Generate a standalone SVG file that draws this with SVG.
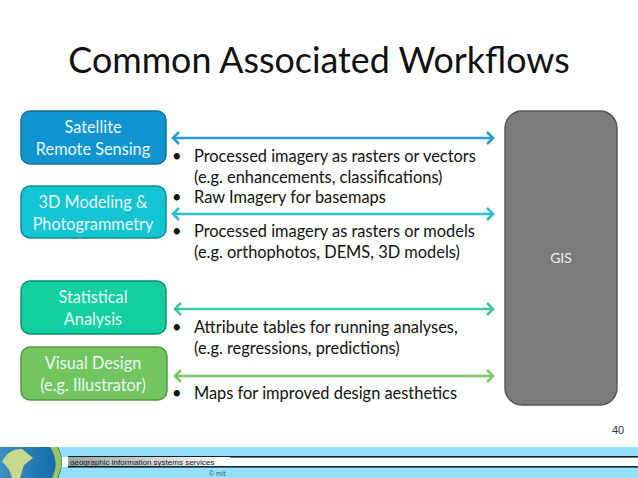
<svg xmlns="http://www.w3.org/2000/svg" width="638" height="478" viewBox="0 0 638 478">
<defs>
<linearGradient id="globe" x1="0" x2="1" y1="0" y2="0"><stop offset="0" stop-color="#3f8fc0"/><stop offset="1" stop-color="#0f6aa8"/></linearGradient>
<linearGradient id="fade" x1="0" x2="1" y1="0" y2="0"><stop offset="0" stop-color="#9aa3a6"/><stop offset="1" stop-color="#fff"/></linearGradient>
<marker id="h1" markerUnits="userSpaceOnUse" markerWidth="12" markerHeight="16" refX="9" refY="8" orient="auto-start-reverse"><path d="M3 2 L9 8 L3 14" fill="none" stroke="#2b9ccb" stroke-width="2.6"/></marker>
<marker id="h2" markerUnits="userSpaceOnUse" markerWidth="12" markerHeight="16" refX="9" refY="8" orient="auto-start-reverse"><path d="M3 2 L9 8 L3 14" fill="none" stroke="#2fbcd0" stroke-width="2.6"/></marker>
<marker id="h3" markerUnits="userSpaceOnUse" markerWidth="12" markerHeight="16" refX="9" refY="8" orient="auto-start-reverse"><path d="M3 2 L9 8 L3 14" fill="none" stroke="#3cc9a0" stroke-width="2.6"/></marker>
<marker id="h4" markerUnits="userSpaceOnUse" markerWidth="12" markerHeight="16" refX="9" refY="8" orient="auto-start-reverse"><path d="M3 2 L9 8 L3 14" fill="none" stroke="#7cc46c" stroke-width="2.6"/></marker>
</defs>
<style>
text{font-family:"Lato","Open Sans","Liberation Sans",sans-serif}
.n{font-size:16.3px;fill:#e8f6f6;text-anchor:middle}
.b{font-size:16.4px;fill:#111}
.box{stroke-width:1.4}
.c{fill:none;stroke-width:2.6}
</style>
<rect width="638" height="478" fill="#fff"/>
<text x="319" y="73" font-size="35.8" fill="#111" text-anchor="middle">Common Associated Workflows</text>
<g id="connectors">
<line class="c" x1="173" y1="138" x2="493" y2="138" stroke="#2b9ccb" marker-start="url(#h1)" marker-end="url(#h1)"/>
<line class="c" x1="173" y1="214" x2="493" y2="214" stroke="#2fbcd0" marker-start="url(#h2)" marker-end="url(#h2)"/>
<line class="c" x1="175" y1="309" x2="493" y2="309" stroke="#3cc9a0" marker-start="url(#h3)" marker-end="url(#h3)"/>
<line class="c" x1="175" y1="376" x2="493" y2="376" stroke="#7cc46c" marker-start="url(#h4)" marker-end="url(#h4)"/>
</g>
<g id="satellite"><rect class="box" x="21" y="111" width="145" height="53" rx="9" fill="#0f94cf" stroke="#0d6f96"/><text class="n" x="93" y="133">Satellite</text><text class="n" x="93" y="155">Remote Sensing</text></g>
<g id="modeling"><rect class="box" x="21" y="186" width="145" height="52" rx="9" fill="#13c4d2" stroke="#0f8a94"/><text class="n" x="93" y="208">3D Modeling &amp;</text><text class="n" x="93" y="230">Photogrammetry</text></g>
<g id="statistical"><rect class="box" x="21" y="281" width="145" height="53" rx="9" fill="#12cf9f" stroke="#0e8f70"/><text class="n" x="93" y="303">Statistical</text><text class="n" x="93" y="325">Analysis</text></g>
<g id="visual"><rect class="box" x="21" y="347" width="146" height="53" rx="9" fill="#72c55f" stroke="#559545"/><text class="n" x="93" y="369">Visual Design</text><text class="n" x="93" y="391">(e.g. Illustrator)</text></g>
<g id="gis"><rect x="505" y="111" width="112" height="294" rx="17" fill="#7b7b7b" stroke="#555" stroke-width="1.4"/><text x="561" y="263" font-size="14" fill="#f2f2f2" text-anchor="middle">GIS</text></g>
<g id="bullets">
<text class="b" x="172" y="162">•</text><text class="b" x="194" y="162">Processed imagery as rasters or vectors</text>
<text class="b" x="194" y="183">(e.g. enhancements, classifications)</text>
<text class="b" x="172" y="203">•</text><text class="b" x="194" y="203">Raw Imagery for basemaps</text>
<text class="b" x="172" y="237">•</text><text class="b" x="194" y="237">Processed imagery as rasters or models</text>
<text class="b" x="194" y="258">(e.g. orthophotos, DEMS, 3D models)</text>
<text class="b" x="172" y="333">•</text><text class="b" x="194" y="333">Attribute tables for running analyses,</text>
<text class="b" x="194" y="354">(e.g. regressions, predictions)</text>
<text class="b" x="172" y="399">•</text><text class="b" x="194" y="399">Maps for improved design aesthetics</text>
</g>
<text x="612" y="434" font-size="11" fill="#333" style="font-family:'Liberation Sans',sans-serif">40</text>
<g id="banner">
<rect x="0" y="447" width="638" height="31" fill="#93e0fa"/>
<rect x="60" y="457" width="578" height="10" fill="#fff"/>
<rect x="68" y="456" width="570" height="1.6" fill="#10242c"/>
<rect x="68" y="466" width="570" height="1.6" fill="#10242c"/>
<rect x="68" y="457" width="162" height="9" fill="url(#fade)"/>
<path d="M0 447H58Q66 462 58 478H0Z" fill="url(#globe)"/>
<path d="M2 462 Q8 449 22 449 L33 458 L24 465 L20 478 L12 478 Q10 468 2 462Z" fill="#c8d88e"/>
<path d="M50 447H57Q66 462 57 478H52Q60 462 50 447Z" fill="#9cc55a"/>
<text x="70" y="464.5" font-size="8" fill="#222" style="font-family:'Liberation Sans',sans-serif">geographic information systems services</text>
<text x="209" y="476" font-size="7" fill="#556" style="font-family:'Liberation Sans',sans-serif">© mit</text>
</g>
</svg>
